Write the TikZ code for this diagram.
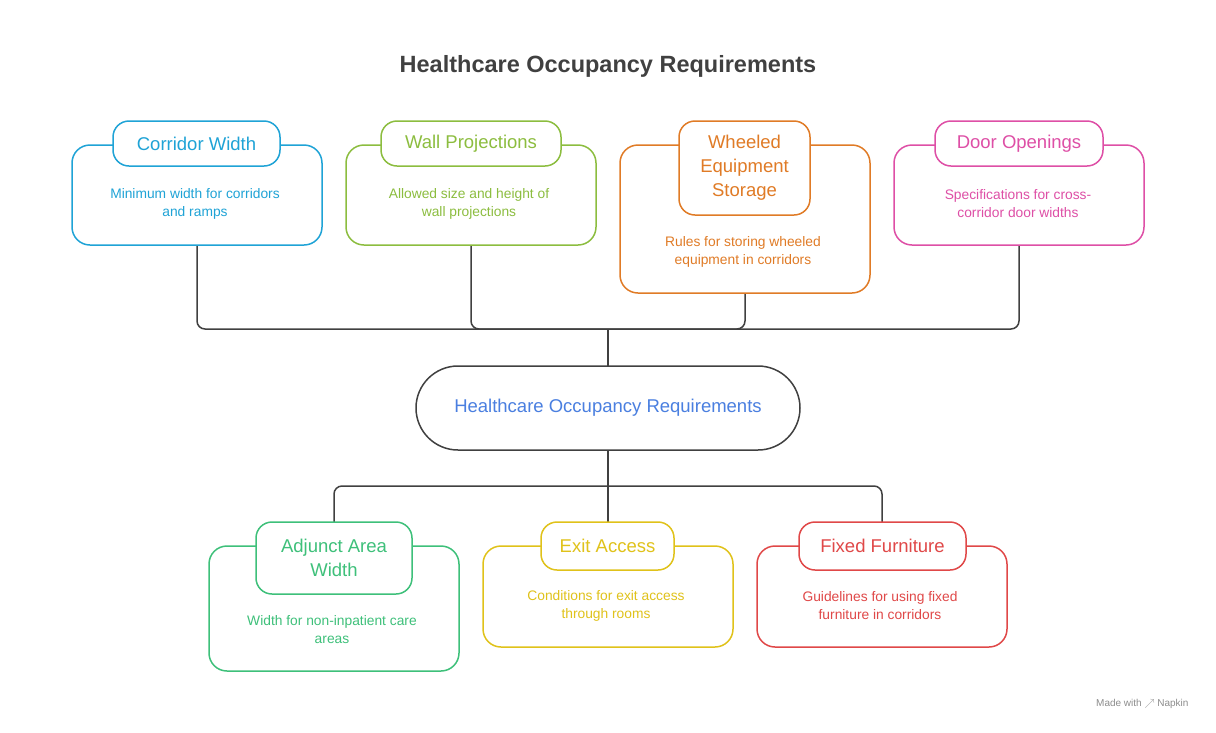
\documentclass[tikz,border=0pt]{standalone}
\usepackage{fontspec}
\setmainfont{Liberation Sans}
\begin{document}
\begin{tikzpicture}[x=1pt,y=-1pt,
  outer/.style={draw=#1,line width=1.5pt,rounded corners=18pt,fill=white},
  ttl/.style={draw=#1,line width=1.5pt,rounded corners=16pt,fill=white,text=#1,font=\fontsize{18.5}{22}\selectfont,align=center},
  desc/.style={text=#1,font=\fontsize{13.8}{18}\selectfont,align=center},
  conn/.style={draw=black!75,line width=1.5pt,rounded corners=8pt}]
\definecolor{cb}{HTML}{1FA3D6}\definecolor{cg}{HTML}{8CBD3F}\definecolor{co}{HTML}{E07B26}
\definecolor{cp}{HTML}{DE4FA6}\definecolor{cg2}{HTML}{3EC07A}\definecolor{cy}{HTML}{E0C21A}
\definecolor{cr}{HTML}{E04848}\definecolor{cc}{HTML}{4A7FE0}
\useasboundingbox (0,0) rectangle (1216,732);
\node[font=\bfseries\fontsize{23.5}{26}\selectfont,text=black!75] (title) at (608,66) {Healthcare Occupancy Requirements};
% connectors
\coordinate (j1) at (608,329);
\draw[conn] (197,245) -- (197,329) -- (1019,329) -- (1019,245);
\draw[conn] (471,245) -- (471,329) -- (745,329) -- (745,293);
\draw[conn] (608,329) -- (608,366);
\draw[conn] (608,450) -- (608,486);
\draw[conn] (334,522) -- (334,486) -- (882,486) -- (882,522);
\draw[conn] (608,486) -- (608,522);
% top boxes
\draw[outer=cb] (72,145) rectangle (322,245);
\node[ttl=cb,minimum width=167pt,minimum height=45pt] (t1) at (196.5,143.5) {Corridor Width};
\node[desc=cb] (d1) at (195,204) {Minimum width for corridors\\and ramps};
\draw[outer=cg] (346,145) rectangle (596,245);
\node[ttl=cg,minimum width=180pt,minimum height=45pt] (t2) at (471,143.5) {Wall Projections};
\node[desc=cg] (d2) at (469,204) {Allowed size and height of\\wall projections};
\draw[outer=co] (620,145) rectangle (870,293);
\node[ttl=co,minimum width=131pt,minimum height=94pt,font=\fontsize{18.5}{24}\selectfont] (t3) at (744.5,168) {Wheeled\\Equipment\\Storage};
\node[desc=co] (d3) at (743,252) {Rules for storing wheeled\\equipment in corridors};
\draw[outer=cp] (894,145) rectangle (1144,245);
\node[ttl=cp,minimum width=168pt,minimum height=45pt] (t4) at (1019,143.5) {Door Openings};
\node[desc=cp] (d4) at (1018,204) {Specifications for cross-\\corridor door widths};
% center
\node[draw=black!75,line width=1.5pt,rounded corners=42pt,fill=white,minimum width=384pt,minimum height=84pt,text=cc,font=\fontsize{18.5}{22}\selectfont] (c) at (608,408) {Healthcare Occupancy Requirements};
% bottom
\draw[outer=cg2] (209,546) rectangle (459,671);
\node[ttl=cg2,minimum width=156pt,minimum height=72pt,font=\fontsize{18.5}{24}\selectfont] (b1) at (334,558) {Adjunct Area\\Width};
\node[desc=cg2] (e1) at (332,630) {Width for non-inpatient care\\areas};
\draw[outer=cy] (483,546) rectangle (733,647);
\node[ttl=cy,minimum width=133pt,minimum height=48pt] (b2) at (607.5,546) {Exit Access};
\node[desc=cy] (e2) at (606,606) {Conditions for exit access\\through rooms};
\draw[outer=cr] (757,546) rectangle (1007,647);
\node[ttl=cr,minimum width=167pt,minimum height=48pt] (b3) at (882.5,546) {Fixed Furniture};
\node[desc=cr] (e3) at (880,606) {Guidelines for using fixed\\furniture in corridors};
\node[text=black!45,font=\fontsize{10}{12}\selectfont,anchor=east] (nap) at (1192,704) {Made with \textbf{$\nearrow$} Napkin};
\end{tikzpicture}
\end{document}
